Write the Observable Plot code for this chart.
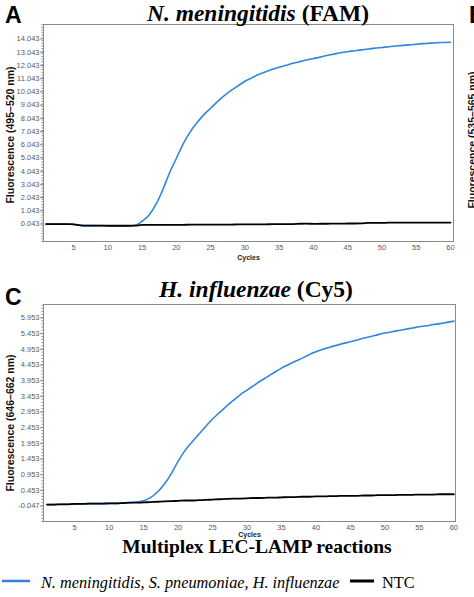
<!DOCTYPE html>
<html>
<head>
<meta charset="utf-8">
<script src="https://cdn.jsdelivr.net/npm/d3@7"></script>
<script src="https://cdn.jsdelivr.net/npm/@observablehq/plot@0.6"></script>
<style>
  html, body { margin: 0; padding: 0; background: #fff; }
  #fig { position: relative; width: 474px; height: 597px; overflow: hidden; background: #fff; }
  #fig > svg { position: absolute; left: 0; }
  #overlay { top: 0; pointer-events: none; }
</style>
</head>
<body>
<div id="fig"></div>
<script>
// Amplification cycles
const cycles = d3.range(1, 61);

// Panel A – N. meningitidis (FAM channel)
const famPositive = [0.04,0.04,0.04,0.03,0.02,-0.06,-0.08,-0.08,-0.08,-0.09,-0.09,-0.09,-0.09,-0.05,
  0.25,0.7,1.5,2.6,3.9,5.0,6.1,7.0,7.7,8.3,8.8,9.3,9.75,10.15,10.5,10.85,11.1,11.35,11.55,11.75,
  11.9,12.05,12.2,12.33,12.45,12.56,12.67,12.8,12.9,13.0,13.08,13.15,13.22,13.28,13.35,13.4,
  13.46,13.51,13.56,13.6,13.65,13.69,13.73,13.76,13.78,13.8];
const famNTC = [0.04,0.04,0.04,0.03,0.02,-0.06,-0.08,-0.08,-0.08,-0.09,-0.09,-0.09,-0.09,-0.08,
  -0.03,-0.03,-0.03,-0.02,-0.02,-0.02,-0.02,-0.01,-0.01,-0.01,-0.01,0.00,0.00,0.00,0.01,0.01,
  0.02,0.02,0.02,0.03,0.03,0.04,0.04,0.06,0.07,0.05,0.06,0.06,0.07,0.07,0.08,0.08,0.09,
  0.13,0.13,0.13,0.14,0.14,0.14,0.14,0.14,0.15,0.15,0.15,0.15,0.15];

// Panel C – H. influenzae (Cy5 channel)
const cy5Positive = [0.00,0.00,0.01,0.01,0.02,0.02,0.03,0.03,0.03,0.04,0.04,0.05,0.06,0.08,
  0.12,0.22,0.4,0.65,0.98,1.38,1.72,1.99,2.24,2.49,2.73,2.93,3.13,3.32,3.5,3.65,3.8,3.95,4.08,
  4.22,4.35,4.46,4.57,4.67,4.78,4.87,4.95,5.02,5.08,5.14,5.19,5.25,5.31,5.36,5.42,5.47,5.51,
  5.55,5.59,5.63,5.67,5.7,5.74,5.77,5.81,5.85];
const cy5NTC = [0.00,0.00,0.01,0.01,0.02,0.02,0.03,0.03,0.03,0.04,0.04,0.05,0.06,0.06,
  0.07,0.08,0.09,0.10,0.11,0.12,0.13,0.13,0.14,0.15,0.16,0.17,0.18,0.19,0.19,0.20,0.21,0.21,
  0.22,0.22,0.23,0.24,0.24,0.25,0.25,0.26,0.26,0.27,0.27,0.28,0.28,0.28,0.29,0.29,0.30,0.30,
  0.30,0.31,0.31,0.31,0.32,0.32,0.32,0.33,0.33,0.33];

// Axis ticks
const xTicks = [5,10,15,20,25,30,35,40,45,50,55,60];
const yTicksA = [0.043,1.043,2.043,3.043,4.043,5.043,6.043,7.043,8.043,9.043,10.043,11.043,12.043,13.043,14.043];
const yTicksC = [-0.047,0.453,0.953,1.453,1.953,2.453,2.953,3.453,3.953,4.453,4.953,5.453,5.953];

// Legend
const seriesNames = ["N. meningitidis, S. pneumoniae, H. influenzae", "NTC"];
const seriesColors = ["#2f86de", "#000000"];

const fig = document.getElementById("fig");
const axisGray = "#8a8a8a";
const tickText = "#5a5a5a";

function panel({pos, ntc, yTicks, xDomain, yDomain, marginRight, yLabel, yLabelDy, cyclesDy, minorStep}) {
  const rows = (vals, s) => cycles.map((c, i) => ({cycle: c, value: vals[i], series: s}));
  const minor = d3.range(yDomain[0], yDomain[1], minorStep);
  return Plot.plot({
    width: 474,
    height: 262,
    marginLeft: 43,
    marginRight,
    marginTop: 24,
    marginBottom: 21,
    x: {domain: xDomain},
    y: {domain: yDomain},
    style: {fontFamily: "'Liberation Sans', Arial, sans-serif", background: "transparent", overflow: "visible"},
    marks: [
      Plot.axisY(minor, {tickSize: 1.5, text: null, label: null, stroke: axisGray}),
      Plot.axisY(yTicks, {tickSize: 3, tickPadding: 1, fontSize: 7.5, fill: tickText, stroke: axisGray,
        tickFormat: d => d.toFixed(3), label: null}),
      Plot.axisX(xTicks, {tickSize: 0, tickPadding: 3, fontSize: 7.5, fill: tickText, label: null}),
      Plot.frame({stroke: axisGray, strokeWidth: 1}),
      Plot.line(rows(pos, seriesNames[0]), {x: "cycle", y: "value", stroke: seriesColors[0], strokeWidth: 1.6, curve: "monotone-x"}),
      Plot.line(rows(ntc, seriesNames[1]), {x: "cycle", y: "value", stroke: seriesColors[1], strokeWidth: 1.8, curve: "monotone-x"}),
      Plot.text([yLabel], {frameAnchor: "left", textAnchor: "middle", lineAnchor: "middle", text: d => d,
        rotate: -90, dx: -33, dy: yLabelDy, fontSize: 10.5, fontWeight: "bold", fill: "#111"}),
      Plot.text(["Cycles"], {frameAnchor: "bottom", lineAnchor: "middle", text: d => d, dy: cyclesDy,
        fontSize: 7, fontWeight: "bold", fill: "#222"})
    ]
  });
}

const chartA = panel({
  pos: famPositive, ntc: famNTC, yTicks: yTicksA,
  xDomain: [0.62, 60.44], yDomain: [-1.282, 15.14], marginRight: 21,
  yLabel: "Fluorescence (495–520 nm)", yLabelDy: 2, cyclesDy: 16.5, minorStep: 0.2
});
chartA.style.top = "0px";
fig.appendChild(chartA);

const chartC = panel({
  pos: cy5Positive, ntc: cy5NTC, yTicks: yTicksC,
  xDomain: [0.48, 60.24], yDomain: [-0.539, 6.38], marginRight: 19,
  yLabel: "Fluorescence (646–662 nm)", yLabelDy: 10, cyclesDy: 13, minorStep: 0.1
});
chartC.style.top = "280px";
fig.appendChild(chartC);

// Titles, panel letters, caption and legend
const svg = d3.select(fig).append("svg")
  .attr("id", "overlay").attr("width", 474).attr("height", 597);

const serif = "'Liberation Serif', 'Times New Roman', serif";
const sans = "'Liberation Sans', Arial, sans-serif";

function title(x, y, italicPart, rest) {
  const t = svg.append("text").attr("x", x).attr("y", y).attr("text-anchor", "middle")
    .attr("font-family", serif).attr("font-weight", "bold").attr("font-size", 23.5);
  t.append("tspan").attr("font-style", "italic").text(italicPart);
  t.append("tspan").text(rest);
}
title(258, 21, "N. meningitidis", " (FAM)");
title(256, 297, "H. influenzae", " (Cy5)");

function letter(x, y, s) {
  svg.append("text").attr("x", x).attr("y", y).attr("font-family", sans)
    .attr("font-weight", "bold").attr("font-size", 23).text(s);
}
letter(5, 23, "A");
letter(5, 305, "C");
letter(469, 23, "B");

// neighbouring panel's axis title at the right edge
svg.append("text")
  .attr("transform", "translate(476,140) rotate(-90)")
  .attr("text-anchor", "middle").attr("font-family", sans).attr("font-weight", "bold")
  .attr("font-size", 10.5).attr("fill", "#111").text("Fluorescence (535–565 nm)");

svg.append("text").attr("x", 257).attr("y", 553).attr("text-anchor", "middle")
  .attr("font-family", serif).attr("font-weight", "bold").attr("font-size", 19.5)
  .text("Multiplex LEC-LAMP reactions");

// legend
const legendY = 581;
svg.append("line").attr("x1", 2).attr("x2", 30).attr("y1", legendY).attr("y2", legendY)
  .attr("stroke", seriesColors[0]).attr("stroke-width", 2.5);
svg.append("text").attr("x", 41).attr("y", 588).attr("font-family", serif)
  .attr("font-style", "italic").attr("font-size", 16.3).text(seriesNames[0]);
svg.append("line").attr("x1", 350).attr("x2", 374).attr("y1", legendY).attr("y2", legendY)
  .attr("stroke", seriesColors[1]).attr("stroke-width", 3);
svg.append("text").attr("x", 382).attr("y", 588).attr("font-family", serif)
  .attr("font-size", 16.3).text(seriesNames[1]);
</script>
</body>
</html>
